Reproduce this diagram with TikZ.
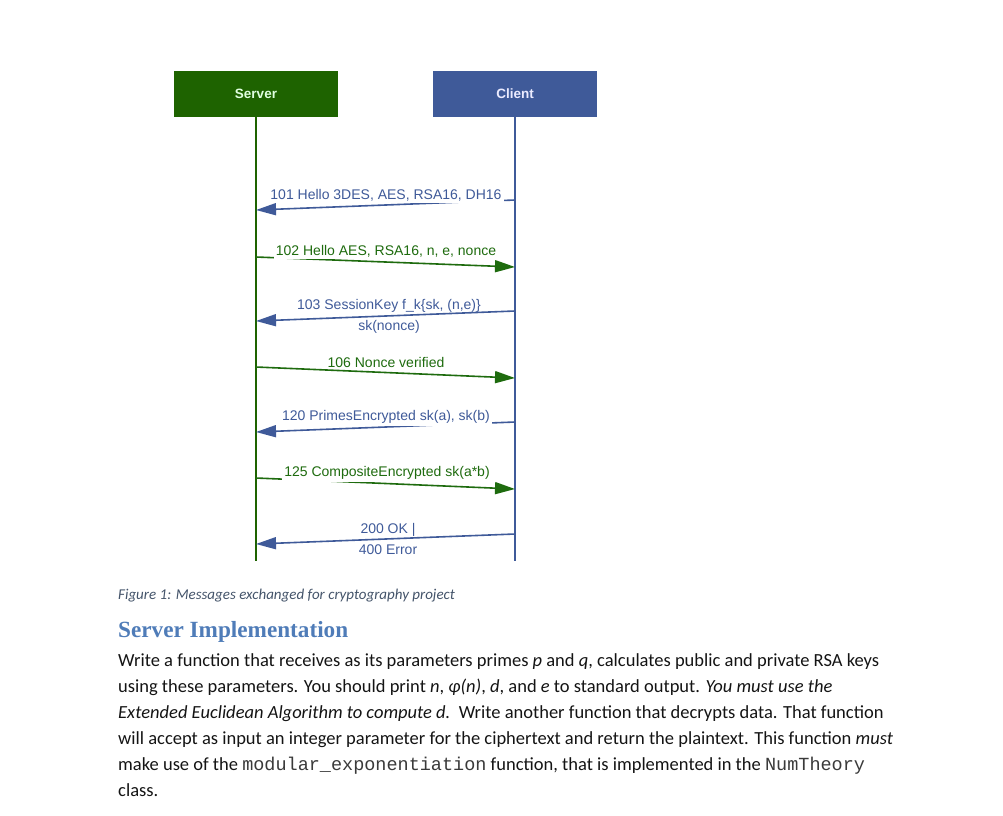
\documentclass[tikz,border=0pt]{standalone}
\usepackage{fontspec}
\setmainfont{Carlito}
\setmonofont{Liberation Mono}
\newfontfamily\diagfont{Liberation Sans}
\newfontfamily\headfont{Liberation Serif}
\usetikzlibrary{arrows.meta}
\definecolor{srvgreen}{HTML}{1E6300}
\definecolor{cliblue}{HTML}{3F5A99}
\definecolor{msggreen}{HTML}{1E6B0E}
\definecolor{capgray}{HTML}{44546A}
\definecolor{headblue}{HTML}{4F7CB8}
\definecolor{bodyink}{HTML}{141414}
\definecolor{codegray}{HTML}{3A3A3A}

\begin{document}
\begin{tikzpicture}[
  x=1pt, y=-1pt,
  actor/.style={minimum width=164pt, minimum height=46pt, inner sep=0pt, font=\diagfont\fontsize{13.5}{15}\selectfont\bfseries},
  life/.style={line width=1.6pt},
  msg/.style={line width=1.6pt, -{Triangle[length=20pt,width=12pt]}},
  lbl/.style={fill=white, inner sep=2pt, font=\diagfont\fontsize{14}{16}\selectfont},
  lbltwo/.style={inner sep=0pt, align=center, font=\diagfont\fontsize{14}{21}\selectfont},
  para/.style={anchor=base west, inner sep=0pt, text=bodyink, font=\fontsize{18.5}{26}\selectfont}
]
  \useasboundingbox (0,0) rectangle (1003,815);

  % actors
  \node[actor, fill=srvgreen, text=white!88!green] (server) at (256,94) {Server};
  \node[actor, fill=cliblue, text=white!92!blue] (client) at (515,94) {Client};

  % lifelines
  \coordinate (serverend) at (256,561);
  \coordinate (clientend) at (515,561);
  \draw[life, srvgreen] (server.south) -- (serverend);
  \draw[life, cliblue] (client.south) -- (clientend);

  % message end points
  \coordinate (c101) at (515,200); \coordinate (s101) at (256,210);
  \coordinate (s102) at (256,257); \coordinate (c102) at (515,267);
  \coordinate (c103) at (515,311); \coordinate (s103) at (256,321);
  \coordinate (s106) at (256,367); \coordinate (c106) at (515,378);
  \coordinate (c120) at (515,422); \coordinate (s120) at (256,432);
  \coordinate (s125) at (256,478); \coordinate (c125) at (515,489);
  \coordinate (c200) at (515,534); \coordinate (s200) at (256,544);

  \draw[msg, cliblue] (c101) -- (s101);
  \draw[msg, msggreen] (s102) -- (c102);
  \draw[msg, cliblue] (c103) -- (s103);
  \draw[msg, msggreen] (s106) -- (c106);
  \draw[msg, cliblue] (c120) -- (s120);
  \draw[msg, msggreen] (s125) -- (c125);
  \draw[msg, cliblue] (c200) -- (s200);

  % message labels
  \node[lbl, text=cliblue] (m101) at (386,195) {101 Hello 3DES, AES, RSA16, DH16};
  \node[lbl, text=msggreen] (m102) at (386,251) {102 Hello AES, RSA16, n, e, nonce};
  \node[lbltwo, text=cliblue] (m103) at (389,316) {103 SessionKey f\_k\{sk, (n,e)\}\\sk(nonce)};
  \node[lbl, text=msggreen] (m106) at (386,362) {106 Nonce verified};
  \node[lbl, text=cliblue] (m120) at (386,417) {120 PrimesEncrypted sk(a), sk(b)};
  \node[lbl, text=msggreen] (m125) at (387,473) {125 CompositeEncrypted sk(a*b)};
  \node[lbltwo, text=cliblue] (m200) at (388,539) {200 OK |\\400 Error};

  % caption and text
  \node[anchor=base west, inner sep=0pt, text=capgray, font=\fontsize{15}{17}\selectfont\itshape] (caption) at (118,599) {Figure 1: Messages exchanged for cryptography project};
  \node[anchor=base west, inner sep=0pt, text=headblue, font=\headfont\fontsize{23.2}{27}\selectfont\bfseries] (heading) at (118,637) {Server Implementation};
  \node[para] (line1) at (118,666) {Write a function that receives as its parameters primes \textit{p} and \textit{q}, calculates public and private RSA keys};
  \node[para] (line2) at (118,692) {using these parameters. You should print \textit{n}, \textit{φ(n)}, \textit{d}, and \textit{e} to standard output. \textit{You must use the}};
  \node[para] (line3) at (118,718) {\textit{Extended Euclidean Algorithm to compute d.}\ \ Write another function that decrypts data. That function};
  \node[para] (line4) at (118,744) {will accept as input an integer parameter for the ciphertext and return the plaintext. This function \textit{must}};
  \node[para] (line5) at (118,770) {make use of the {\ttfamily\color{codegray}modular\_exponentiation} function, that is implemented in the {\ttfamily\color{codegray}NumTheory}};
  \node[para] (line6) at (118,796) {class.};
\end{tikzpicture}
\end{document}
